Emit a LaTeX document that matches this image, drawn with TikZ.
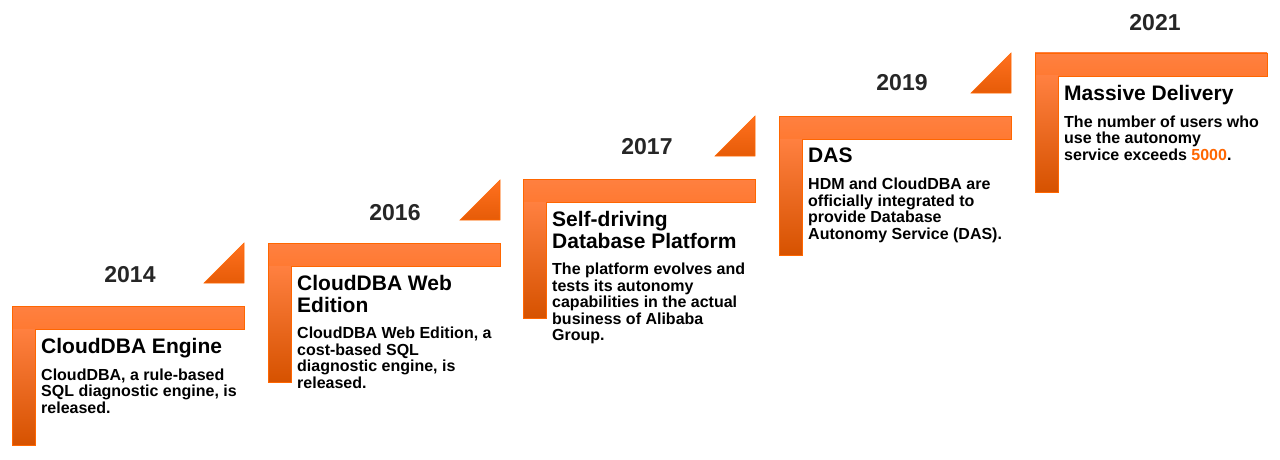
\documentclass[tikz,border=0pt]{standalone}
\usepackage{fontspec}
\setmainfont{Liberation Sans}
\usetikzlibrary{positioning}
\definecolor{barlight}{HTML}{FF8040}
\definecolor{barmid}{HTML}{FF6A12}
\definecolor{bardark}{HTML}{D65200}
\definecolor{barline}{HTML}{FF6600}
\definecolor{yeargray}{HTML}{262626}

\begin{document}
\begin{tikzpicture}[x=1pt,y=-1pt,
    year/.style={font=\fontsize{23}{23}\selectfont\bfseries,text=yeargray,anchor=base,inner sep=0pt},
    title/.style={font=\fontsize{21}{21.7}\selectfont\bfseries,align=left,anchor=north west,inner sep=0pt},
    body/.style={font=\fontsize{16}{16.5}\selectfont\bfseries,align=left,inner sep=0pt},
    stepbar/.pic={
      \shade[top color=barlight,bottom color=barlight!70!barmid] (0,0) rectangle (232,23);
      \shade[top color=barlight,middle color=barmid,bottom color=bardark] (0,23) rectangle (23,139);
      \draw[barline,line width=0.6pt] (0,0) -- (232,0) -- (232,23) -- (23,23) -- (23,139) -- (0,139) -- cycle;
    },
    steptri/.pic={
      \shade[top color=barmid!70!barlight,bottom color=bardark!60!barmid,draw=barline,line width=0.6pt]
        (232,-63) -- (232,-23) -- (192,-23) -- cycle;
    }]
\useasboundingbox (0,0) rectangle (1280,460);

\coordinate (s1) at (12,306);
\coordinate (s2) at (268,243);
\coordinate (s3) at (523,179);
\coordinate (s4) at (779,116);
\coordinate (s5) at (1035,53);

\pic at (s1) {stepbar};
\pic at (s2) {stepbar};
\pic at (s3) {stepbar};
\pic at (s4) {stepbar};
\pic at (s5) {stepbar};
\pic at (s1) {steptri};
\pic at (s2) {steptri};
\pic at (s3) {steptri};
\pic at (s4) {steptri};

\node[year] (y1) at ([shift={(118,-24)}]s1) {2014};
\node[year] (y2) at ([shift={(127,-23)}]s2) {2016};
\node[year] (y3) at ([shift={(124,-25)}]s3) {2017};
\node[year] (y4) at ([shift={(123,-25)}]s4) {2019};
\node[year] (y5) at ([shift={(120,-22)}]s5) {2021};

\node[title] (t1) at ([shift={(29,32)}]s1) {CloudDBA Engine};
\node[title] (t2) at ([shift={(29,32)}]s2) {CloudDBA Web\\Edition};
\node[title] (t3) at ([shift={(29,32)}]s3) {Self-driving\\Database Platform};
\node[title] (t4) at ([shift={(29,32)}]s4) {DAS};
\node[title] (t5) at ([shift={(29,32)}]s5) {Massive Delivery};

\node[body,below=15pt of t1.base west,anchor=north west] (b1)
  {CloudDBA, a rule-based\\SQL diagnostic engine, is\\released.};
\node[body,below=15pt of t2.base west,anchor=north west] (b2)
  {CloudDBA Web Edition, a\\cost-based SQL\\diagnostic engine, is\\released.};
\node[body,below=15pt of t3.base west,anchor=north west] (b3)
  {The platform evolves and\\tests its autonomy\\capabilities in the actual\\business of Alibaba\\Group.};
\node[body,below=15pt of t4.base west,anchor=north west] (b4)
  {HDM and CloudDBA are\\officially integrated to\\provide Database\\Autonomy Service (DAS).};
\node[body,below=15pt of t5.base west,anchor=north west] (b5)
  {The number of users who\\use the autonomy\\service exceeds {\color{barline}5000}.};

\end{tikzpicture}
\end{document}
